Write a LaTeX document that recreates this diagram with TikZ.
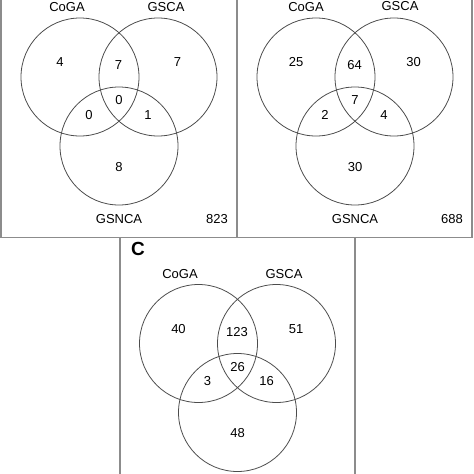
\documentclass[tikz,border=0pt]{standalone}
\usepackage{fontspec}
\setmainfont{Liberation Sans}
\usetikzlibrary{positioning}

\tikzset{
  venn/.style={draw=black!70, line width=0.8pt},
  frame/.style={draw=black!45, line width=1.3pt},
  setname/.style={font=\fontsize{13}{15}\selectfont, inner sep=0pt},
  count/.style={font=\fontsize{13}{15}\selectfont, inner sep=0pt},
  tag/.style={font=\fontsize{19}{22}\selectfont\bfseries, inner sep=0pt}
}

\begin{document}
\begin{tikzpicture}[x=1pt, y=-1pt]
  \useasboundingbox (0,0) rectangle (474,474);

  % panel frames
  \draw[frame] (1,0) |- (237,237.5) -- (237,0);
  \draw[frame] (237,237.5) -| (472,0);
  \draw[frame] (120,474) |- (355,237.5) -- (355,474);

  % three venn diagrams
  \foreach \px/\py/\na/\nb/\nab/\nabc/\nac/\nbc/\nc [count=\i] in
    {0/0/4/7/7/0/0/1/8, 236/0/25/30/64/7/2/4/30, 118.5/266.5/40/51/123/26/3/16/48}
  {
    \begin{scope}[shift={(\px,\py)}]
      \coordinate (c\i-a) at (80,77);
      \coordinate (c\i-b) at (158,77);
      \coordinate (c\i-c) at (119,146);
      \draw[venn] (c\i-a) circle[radius=59];
      \draw[venn] (c\i-b) circle[radius=59];
      \draw[venn] (c\i-c) circle[radius=59];
      \node[count] (n\i-a) at (60,62.5) {\na};
      \node[count] (n\i-b) at (177.5,62.5) {\nb};
      \node[count] (n\i-ab) at (118.5,65.5) {\nab};
      \node[count] (n\i-abc) at (119,100.5) {\nabc};
      \node[count] (n\i-ac) at (89,115) {\nac};
      \node[count] (n\i-bc) at (148,115) {\nbc};
      \node[count] (n\i-c) at (119,167) {\nc};
    \end{scope}
  }

  % set names and totals
  \node[setname] (coga1) at (67,7) {CoGA};
  \node[setname] (gsca1) at (166,7) {GSCA};
  \node[setname] (gsnca1) at (119,219) {GSNCA};
  \node[setname] (tot1) at (217,219) {823};

  \node[setname] (coga2) at (306,7) {CoGA};
  \node[setname] (gsca2) at (400,6) {GSCA};
  \node[setname] (gsnca2) at (355,219) {GSNCA};
  \node[setname] (tot2) at (452,219) {688};

  \node[tag] (tagc) at (138,249) {C};
  \node[setname] (coga3) at (180,274) {CoGA};
  \node[setname] (gsca3) at (284,274) {GSCA};
\end{tikzpicture}
\end{document}
